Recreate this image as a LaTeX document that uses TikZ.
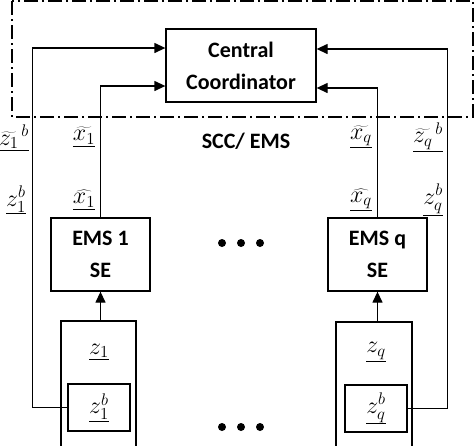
\RequirePackage{fix-cm}
\documentclass[tikz,border=0pt]{standalone}
\usepackage[no-math]{fontspec}
\newfontfamily\carl{Carlito}
\usetikzlibrary{arrows.meta}
\begin{document}
\begin{tikzpicture}[x=1pt,y=-1pt,
  ln/.style={line width=1.3pt},
  arr/.style={ln,-{Triangle[length=11pt,width=10pt]}},
  box/.style={draw,line width=1.3pt,inner sep=0pt,align=center,
    font=\carl\bfseries\fontsize{22}{32}\selectfont},
  lbl/.style={inner sep=0pt,font=\fontsize{24}{28}\selectfont},
  dashdot/.style={line width=1.2pt,dash pattern=on 14pt off 4pt on 2pt off 4pt},
  dotc/.style={fill=black,draw=none}]
\clip (0,0) rectangle (474,445);
\useasboundingbox (0,0) rectangle (474,445);

% dash-dot region
\draw[dashdot] (12,1) rectangle (473,117);
\node[lbl,font=\carl\bfseries\fontsize{22}{26}\selectfont] (scc) at (246,141) {SCC/ EMS};

% boxes
\node[box,minimum width=150pt,minimum height=73pt] (cc) at (241,65.5) {Central\\Coordinator};
\node[box,minimum width=99pt,minimum height=73pt] (ems1) at (100.5,254.5) {EMS 1\\SE};
\node[box,minimum width=99pt,minimum height=73pt] (emsq) at (377.5,254.5) {EMS q\\SE};
\node[draw,ln,minimum width=75pt,minimum height=129pt] (z1box) at (98.5,385.5) {};
\node[draw,ln,minimum width=76pt,minimum height=128pt] (zqbox) at (374,386) {};
\node[draw,ln,lbl,minimum width=62pt,minimum height=47pt] (z1b) at (99,407.5) {$\underline{z_1^b}$};
\node[draw,ln,lbl,minimum width=62pt,minimum height=47pt] (zqb) at (376,408.5) {$\underline{z_q^b}$};
\node[lbl] (z1) at (99,352) {$\underline{z_1}$};
\node[lbl] (zq) at (376,352) {$\underline{z_q}$};

% corner coordinates
\coordinate (ccl1) at ([yshift=17.5pt]cc.west);
\coordinate (ccl2) at ([yshift=-20.5pt]cc.west);
\coordinate (ccr1) at ([yshift=16.5pt]cc.east);
\coordinate (ccr2) at ([yshift=-22.5pt]cc.east);
\coordinate (lcorner) at ([xshift=-35pt]z1b.west |- ccl1);
\coordinate (rcorner) at ([xshift=40pt]zqb.east |- ccr1);

% connectors
\draw[arr] (ems1.south |- z1box.north) -- (ems1.south);
\draw[arr] (emsq.south |- zqbox.north) -- (emsq.south);
\draw[arr] (ems1.north) |- (ccl2);
\draw[arr] (emsq.north) |- (ccr2);
\draw[arr] (z1b.west) -| (lcorner) -- (ccl1);
\draw[arr] (zqb.east) -| (rcorner) -- (ccr1);

% line labels
\node[lbl] (tz1) at (14,138) {$\underline{\widetilde{z_1}^{\,b}}$};
\node[lbl] (hz1) at (16,200) {$\underline{z_1^b}$};
\node[lbl] (tx1) at (84,137) {$\underline{\widetilde{x_1}}$};
\node[lbl] (hx1) at (84,200) {$\underline{\widehat{x_1}}$};
\node[lbl] (txq) at (361,137) {$\underline{\widetilde{x_q}}$};
\node[lbl] (hxq) at (361,200) {$\underline{\widehat{x_q}}$};
\node[lbl] (tzq) at (428,137) {$\underline{\widetilde{z_q}^{\,b}}$};
\node[lbl] (hzq) at (433,200) {$\underline{z_q^b}$};

% dots
\foreach \xx in {222,241,260}{
  \fill[dotc] (\xx,243) circle (4pt);
  \fill[dotc] (\xx,427) circle (4pt);
}
\end{tikzpicture}
\end{document}
